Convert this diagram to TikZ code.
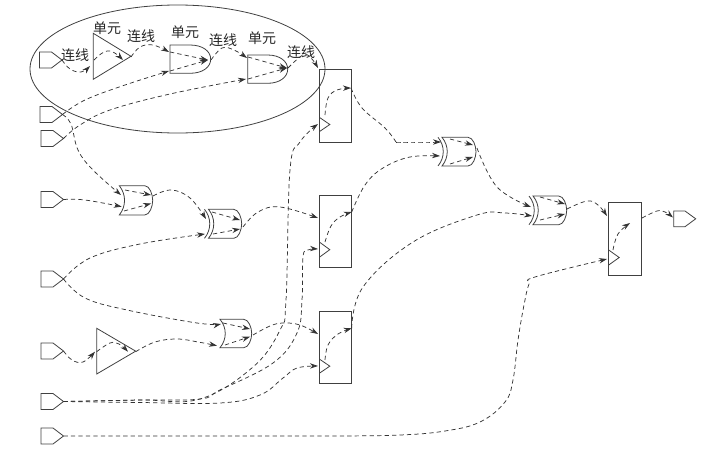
\documentclass[tikz,border=0pt]{standalone}
\usepackage{fontspec}
\newfontfamily\cjk{Noto Sans CJK SC}
\usetikzlibrary{arrows.meta}
\tikzset{
  shapeline/.style={draw=black!75,line width=0.6pt,line join=miter},
  conn/.style={draw=black!80,line width=0.55pt,dash pattern=on 3.2pt off 2.4pt,-{Stealth[length=6pt,width=4pt]}},
  plain/.style={draw=black!80,line width=0.55pt,dash pattern=on 3.2pt off 2.4pt},
  lab/.style={font=\cjk\fontsize{10.5pt}{11pt}\selectfont,inner sep=0pt,text=black!85},
}
\newcommand{\inpin}[3]{\draw[shapeline] (#2,#3-8)--(#2+12,#3-8)--(#2+22.5,#3)--(#2+12,#3+8)--(#2,#3+8)--cycle;\coordinate (#1) at (#2+22.5,#3);}
\newcommand{\bufgate}[4]{\draw[shapeline] (#1,#2)--(#3,{(#2+#4)/2})--(#1,#4)--cycle;}
\newcommand{\andgate}[4]{\draw[shapeline] (#1,#2)--(#1+20,#2) .. controls (#3-8,#2) and (#3,{#2+(#4-#2)*.22}) .. (#3,{(#2+#4)/2}) .. controls (#3,{#4-(#4-#2)*.22}) and (#3-8,#4) .. (#1+20,#4)--(#1,#4)--cycle;}
\newcommand{\orgate}[4]{\draw[shapeline] (#1,#2)--(#3-8,#2) .. controls (#3-3,#2) and (#3,{#2+(#4-#2)*.3}) .. (#3,{(#2+#4)/2}) .. controls (#3,{#4-(#4-#2)*.3}) and (#3-3,#4) .. (#3-8,#4)--(#1,#4) .. controls (#1+7,{#4-(#4-#2)*.3}) and (#1+7,{#2+(#4-#2)*.3}) .. (#1,#2)--cycle;}
\newcommand{\xorgate}[4]{\orgate{#1+4}{#2}{#3}{#4}\draw[shapeline] (#1,#2) .. controls (#1+7,{#2+(#4-#2)*.3}) and (#1+7,{#4-(#4-#2)*.3}) .. (#1,#4);}
\newcommand{\dff}[7]{\node[shapeline,inner sep=0pt,minimum width={(#4-#2)*0.75pt},minimum height={(#5-#3)*0.75pt}] (#1) at ({(#2+#4)/2},{(#3+#5)/2}) {};\draw[shapeline] (#2,#6)--(#2+10.5,{(#6+#7)/2})--(#2,#7);\coordinate (#1clk) at (#2+10.5,{(#6+#7)/2});}
\newcommand{\conn}[1]{\draw[conn] plot[smooth,tension=.65] coordinates {#1};}
\newcommand{\connp}[1]{\draw[plain] plot[smooth,tension=.65] coordinates {#1};}
\begin{document}
\begin{tikzpicture}[x=0.75pt,y=-0.75pt]
\useasboundingbox (0,0) rectangle (710,464);
\draw[shapeline] (177.5,69) ellipse [x radius=147.5,y radius=64];
\inpin{iA}{39.5}{60}
\inpin{iB}{40}{114.5}
\inpin{iC}{41}{138.5}
\inpin{iD}{41}{199.5}
\inpin{iE}{41}{279}
\inpin{iF}{41}{351}
\inpin{iG}{41}{401.5}
\inpin{iH}{41}{436}
\draw[shapeline] (673.7,211)--(685,211)--(695.7,218.8)--(685,226.7)--(673.7,226.7)--cycle;
\coordinate (oA) at (673,217.5);
\bufgate{93.3}{33.3}{131}{79.3}
\bufgate{96.7}{328.3}{135.7}{374}
\andgate{170}{45}{210.7}{73.3}
\andgate{247.7}{55}{287.7}{83.3}
\orgate{119.3}{185.7}{152.7}{215}
\xorgate{204.5}{209.3}{241.7}{238.3}
\orgate{220}{319.3}{251.7}{347.7}
\xorgate{438}{137.3}{476}{166}
\xorgate{529}{196}{566.7}{224.7}
\dff{ffA}{319.3}{69}{351.7}{142.3}{117.3}{131.7}
\dff{ffB}{319.3}{195}{351.7}{267.7}{242}{257.3}
\dff{ffC}{319.3}{311}{351.7}{383.3}{359}{373.3}
\dff{ffD}{608.7}{202.3}{641.7}{275.3}{250}{265}
\node[lab] (tA) at (75,55) {连线};
\node[lab] (tB) at (107,28) {单元};
\node[lab] (tC) at (141,36) {连线};
\node[lab] (tD) at (185,32) {单元};
\node[lab] (tE) at (223,40) {连线};
\node[lab] (tF) at (262,38) {单元};
\node[lab] (tG) at (301,52) {连线};
% top row
\conn{(iA) (70,69) (81,72) (90,66)}
\conn{(94,60) (104,52) (113,52) (123,60)}
\conn{(131,57) (140,47) (153,45) (169,52)}
\conn{(170,52) (208,60)}
\conn{(170,71) (208,60)}
\conn{(iB) (85,100) (125,85) (169,71)}
\conn{(211,60) (222,48) (234,50) (247,58)}
\conn{(248,57) (287,68)}
\conn{(248,79) (287,68)}
\conn{(iC) (80,125) (110,110) (170,94) (246,79)}
\conn{(288,68) (303,55) (311,58) (318,68)}
% flip-flop A
\conn{(325,115) (328,98) (337,90) (351,88)}
\connp{(351,88) (362,108) (385,128) (396,142)}
\conn{(396,142) (441,142)}
% OR1
\conn{(iB) (71,124) (78,150) (93,170) (121,195)}
\conn{(iD) (85,200) (121.7,206.7)}
\conn{(125,190) (151,195)}
\conn{(124,211) (151,203.5)}
\conn{(153,196) (171,190) (190,198) (206,219)}
\conn{(iE) (90,258) (140,244) (205,234)}
\conn{(212,212) (240,220)}
\conn{(213,234) (240,229)}
\conn{(243,227) (258,212) (280,207) (318,218)}
\conn{(325,242) (331,226) (340,217) (351.7,212)}
\conn{(351.7,212) (365,185) (383,168) (410,157) (440,156)}
\conn{(iE) (85,298) (127,310) (197,323) (221,324)}
% buffer 2
\conn{(iF) (72,360) (83,362) (95,351.7)}
\conn{(96.7,351.7) (110,343) (119,344) (128,351.7)}
\conn{(135.7,351.7) (155,342) (177,339) (198,342) (217,345.7)}
\conn{(223,323) (250,329)}
\conn{(225,345) (250,336.7)}
\conn{(253,335) (270,326) (283,323) (300,325) (318,334)}
% flip-flop C
\conn{(325,360) (328,345) (338,334) (351.7,328.3)}
\conn{(351.7,328.3) (363,287) (413,242) (477,215) (505,213) (532,216)}
% clock wires from iG
\conn{(iG) (140,400) (200,399) (253,367) (280,330) (286,300) (290,170) (300,142) (318,124)}
\conn{(iG) (140,400) (200,399) (220,390) (273,363) (297,333) (302,300) (303,257) (308,250) (318,249)}
\conn{(iG) (140,402.5) (220,403) (260,395) (283,378) (297,368) (318,366)}
% clock wire from iH
\conn{(iH) (200,436) (330,436) (400,435) (445,431) (480,422) (505,402) (513,380) (518,340) (524,305) (529,284) (535,277) (607,259)}
% XOR 3
\conn{(450,139) (473,145)}
\conn{(450,164) (473,157)}
\conn{(477,148) (497,187) (531,207)}
% XOR 4
\conn{(540,197) (565,204)}
\conn{(540,220) (565,214)}
\conn{(567,209) (587,201) (598,205) (607,216)}
\conn{(613,250) (618,234) (630,223)}
\conn{(642,218) (657,211) (665,212) (oA)}
\end{tikzpicture}
\end{document}
